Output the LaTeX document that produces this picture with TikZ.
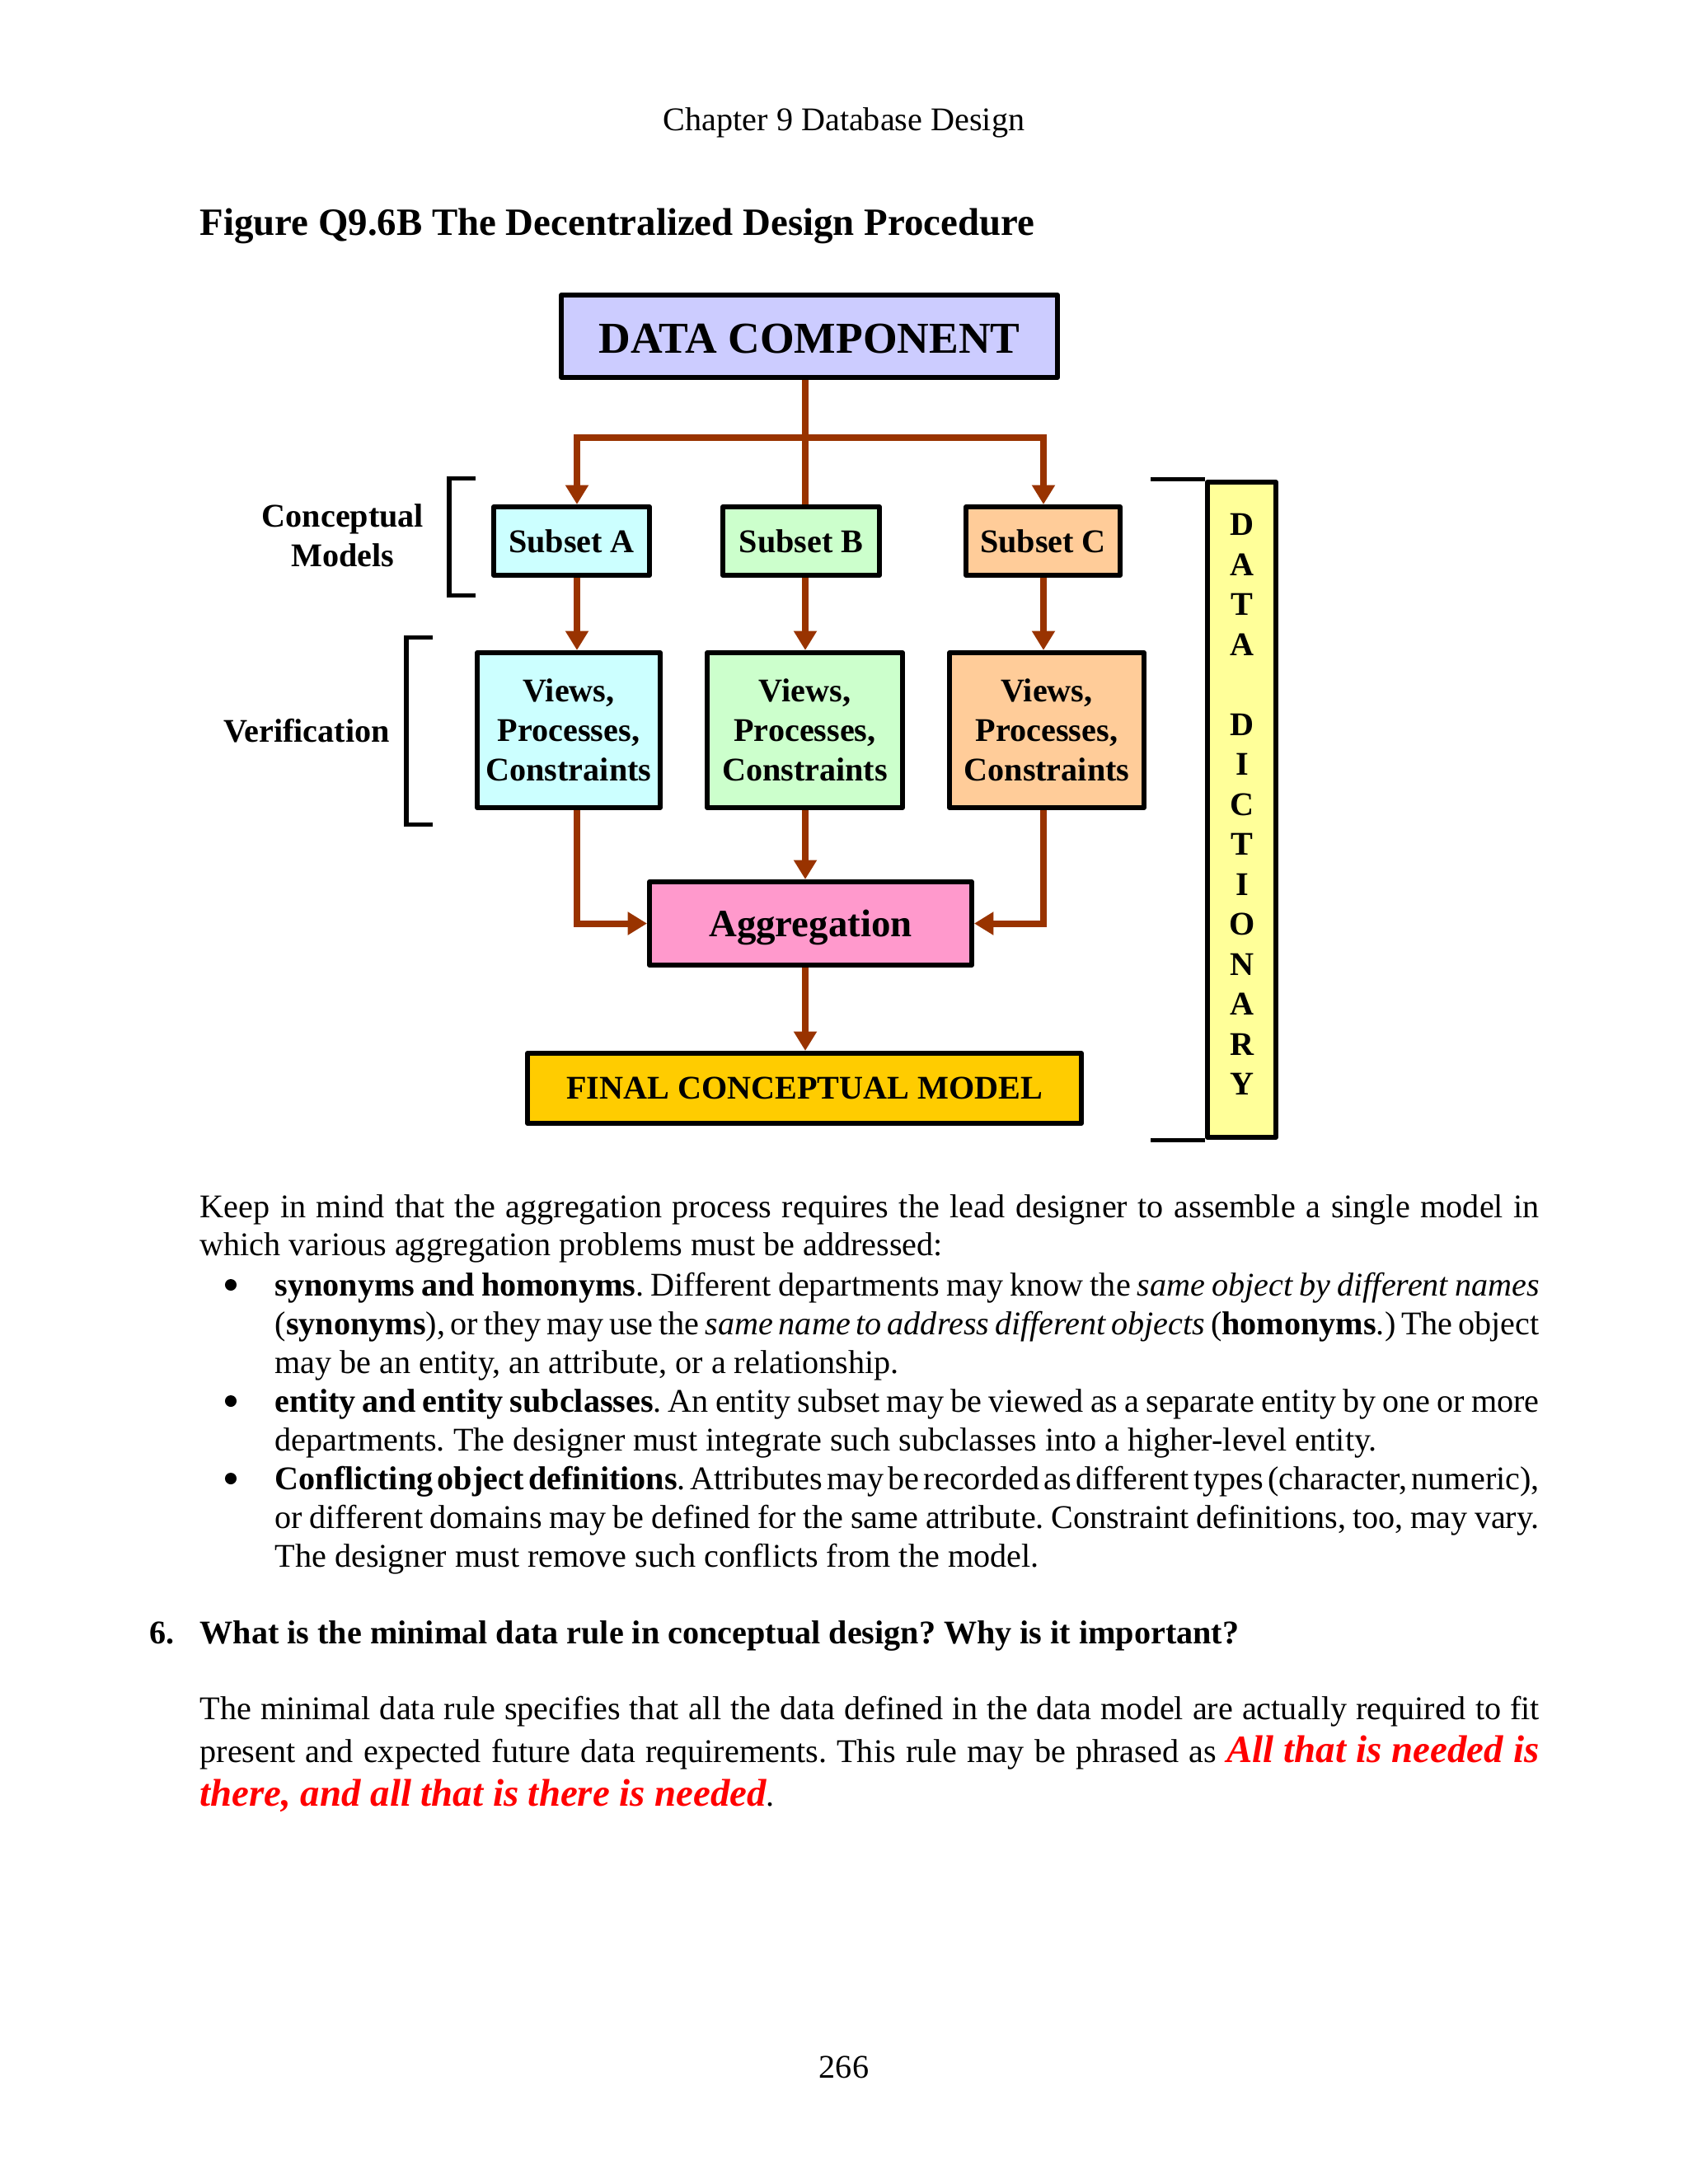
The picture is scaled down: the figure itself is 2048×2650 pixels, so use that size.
\documentclass[tikz,border=0pt]{standalone}
\usepackage{fontspec}
\setmainfont{Liberation Serif}
\usetikzlibrary{arrows.meta}
\definecolor{brn}{HTML}{993300}
\definecolor{cDC}{HTML}{CCCCFF}
\definecolor{cA}{HTML}{CCFFFF}
\definecolor{cB}{HTML}{CCFFCC}
\definecolor{cC}{HTML}{FFCC99}
\definecolor{cAgg}{HTML}{FF99CC}
\definecolor{cFin}{HTML}{FFCC00}
\definecolor{cDD}{HTML}{FFFF99}
\definecolor{redtxt}{HTML}{FF0000}
\frenchspacing
\newcommand{\jlwide}[1]{\makebox[485.6pt][s]{\spaceskip=0.25em plus 0.5em minus 0.12em #1}}
\newcommand{\jlbul}[1]{\makebox[458.4pt][s]{\spaceskip=0.25em plus 0.5em minus 0.12em #1}}
\newcommand{\redemph}[1]{{\fontsize{14}{16}\selectfont\bfseries\itshape\color{redtxt}#1}}
\tikzset{
  fbox/.style={draw=black, line width=1.8pt, line join=round, inner sep=0pt, align=center,
    font=\fontsize{12}{14.4}\selectfont\bfseries},
  conn/.style={draw=brn, line width=2.4pt},
  arr/.style={conn, -{Triangle[width=8pt,length=7pt]}},
  brk/.style={draw=black, line width=1.5pt},
  lbl/.style={inner sep=0pt, align=center, font=\fontsize{12}{14.4}\selectfont\bfseries},
  txt/.style={anchor=base west, inner sep=0pt, font=\fontsize{12}{14}\selectfont},
  ctxt/.style={anchor=base, inner sep=0pt, font=\fontsize{12}{14}\selectfont},
  bul/.style={circle, fill=black, inner sep=0pt, minimum size=4.2pt}
}
\begin{document}
\begin{tikzpicture}[x=0.298828pt,y=-0.298828pt]
\fill[white] (0,0) rectangle (2048,2650);
\useasboundingbox (0,0) rectangle (2048,2650);

% header
\node[ctxt] (hdr) at (1024,158) {Chapter 9 Database Design};
\node[txt, font=\fontsize{14}{17}\selectfont\bfseries] (title) at (242,285) {Figure Q9.6B The Decentralized Design Procedure};

% figure boxes
\node[fbox, fill=cDC, minimum width=179.9pt, minimum height=29.9pt, text height=12.4pt, text depth=0pt, font=\fontsize{16}{19}\selectfont\bfseries] (dc) at (982,408) {DATA COMPONENT};
\node[fbox, fill=cA, minimum width=56.5pt, minimum height=24.8pt] (subA) at (693.5,656.5) {Subset A};
\node[fbox, fill=cB, minimum width=56.8pt, minimum height=24.8pt] (subB) at (972,656.5) {Subset B};
\node[fbox, fill=cC, minimum width=55.9pt, minimum height=24.8pt] (subC) at (1265.5,656.5) {Subset C};
\node[fbox, fill=cA, minimum width=66.3pt, minimum height=56.2pt] (viewA) at (690,886) {Views,\\Processes,\\Constraints};
\node[fbox, fill=cB, minimum width=70.8pt, minimum height=56.2pt] (viewB) at (976.5,886) {Views,\\Processes,\\Constraints};
\node[fbox, fill=cC, minimum width=70.5pt, minimum height=56.2pt] (viewC) at (1270,886) {Views,\\Processes,\\Constraints};
\node[fbox, fill=cAgg, minimum width=116.8pt, minimum height=30.2pt, text depth=0pt, font=\fontsize{14}{17}\selectfont\bfseries] (agg) at (983.5,1120.5) {Aggregation};
\node[fbox, fill=cFin, minimum width=200.8pt, minimum height=25.4pt] (final) at (976,1320.5) {FINAL CONCEPTUAL MODEL};
\node[fbox, fill=cDD, minimum width=24.8pt, minimum height=237.6pt] (dd) at (1506.5,982.5) {};
\node[lbl, font=\fontsize{12}{14.5}\selectfont\bfseries] (ddtext) at (1507,976) {D\\A\\T\\A\\[14.5pt]D\\I\\C\\T\\I\\O\\N\\A\\R\\Y};

% side labels
\node[lbl] (lblCM) at (416,650) {Conceptual\\Models};
\node[lbl] (lblV) at (372,887) {Verification};

% brackets
\draw[brk] (577,580) -- (545,580) -- (545,722) -- (577,722);
\draw[brk] (525,773) -- (493,773) -- (493,1000) -- (525,1000);
\draw[brk] (dd.north west) -- ++(-66,0);
\draw[brk] (dd.south west) -- ++(-66,0);

% connector columns
\coordinate (lA) at (700,0);
\coordinate (lB) at (977,0);
\coordinate (lC) at (1266,0);
\coordinate (hub) at (977,531);

\draw[conn] (dc.south -| lB) -- (subB.north -| lB);
\draw[arr] (hub) -| (subA.north -| lA);
\draw[arr] (hub) -| (subC.north -| lC);
\draw[arr] (subA.south -| lA) -- (viewA.north -| lA);
\draw[arr] (subB.south -| lB) -- (viewB.north -| lB);
\draw[arr] (subC.south -| lC) -- (viewC.north -| lC);
\draw[arr] (viewA.south -| lA) |- (agg.west);
\draw[arr] (viewC.south -| lC) |- (agg.east);
\draw[arr] (viewB.south -| lB) -- (agg.north -| lB);
\draw[arr] (agg.south -| lB) -- (final.north -| lB);

% body text
\node[txt] (p1a) at (242,1477) {\jlwide{Keep in mind that the aggregation process requires the lead designer to assemble a single model in}};
\node[txt] (p1b) at (242,1523) {which various aggregation problems must be addressed:};

\node[bul] (bu1) at (280,1559) {};
\node[txt] (b1a) at (333,1572) {\jlbul{\textbf{synonyms and homonyms}. Different departments may know the \textit{same object by different names}}};
\node[txt] (b1b) at (333,1619) {\jlbul{(\textbf{synonyms}), or they may use the \textit{same name to address different objects} (\textbf{homonyms}.) The object}};
\node[txt] (b1c) at (333,1666) {may be an entity, an attribute, or a relationship.};

\node[bul] (bu2) at (280,1700) {};
\node[txt] (b2a) at (333,1713) {\jlbul{\textbf{entity and entity subclasses}. An entity subset may be viewed as a separate entity by one or more}};
\node[txt] (b2b) at (333,1760) {departments. The designer must integrate such subclasses into a higher-level entity.};

\node[bul] (bu3) at (280,1794) {};
\node[txt] (b3a) at (333,1807) {\jlbul{\textbf{Conflicting object definitions}. Attributes may be recorded as different types (character, numeric),}};
\node[txt] (b3b) at (333,1854) {\jlbul{or different domains may be defined for the same attribute. Constraint definitions, too, may vary.}};
\node[txt] (b3c) at (333,1901) {The designer must remove such conflicts from the model.};

\node[txt, font=\fontsize{12}{14}\selectfont\bfseries] (qn) at (181,1994) {6.};
\node[txt, font=\fontsize{12}{14}\selectfont\bfseries] (q) at (242,1994) {What is the minimal data rule in conceptual design? Why is it important?};

\node[txt] (p2a) at (242,2086) {\jlwide{The minimal data rule specifies that all the data defined in the data model are actually required to fit}};
\node[txt] (p2b) at (242,2138) {\jlwide{present and expected future data requirements. This rule may be phrased as \redemph{All that is needed is}}};
\node[txt] (p2c) at (242,2191) {\redemph{there, and all that is there is needed}.};

\node[ctxt] (pg) at (1024,2521) {266};
\end{tikzpicture}
\end{document}
